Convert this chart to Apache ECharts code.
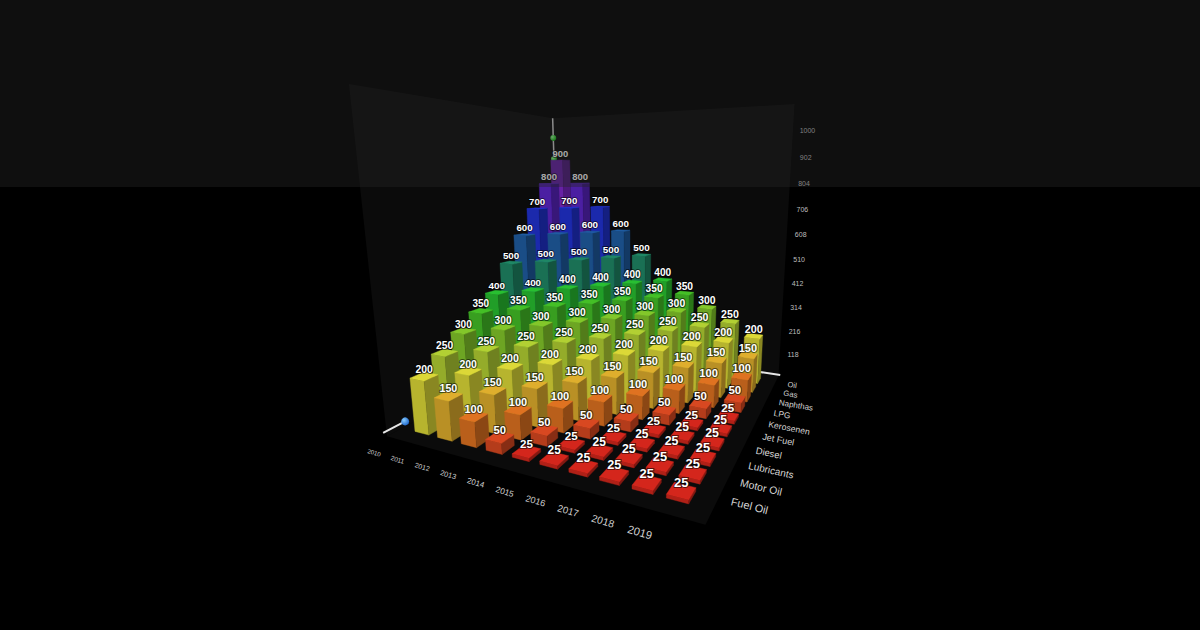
<!DOCTYPE html>
<html><head><meta charset="utf-8">
<script src="https://cdn.jsdelivr.net/npm/echarts@6/dist/echarts.min.js"></script>
<style>html,body{margin:0;padding:0;background:#000;}#c{width:1200px;height:630px;}</style>
</head><body><div id="c"></div>
<script>
// ---------------- DATA ----------------
const YEARS = ['2010','2011','2012','2013','2014','2015','2016','2017','2018','2019'];
const PRODUCTS = ['Oil','Gas','Naphthas','LPG','Kerosenen','Jet Fuel','Diesel','Lubricants','Motor Oil','Fuel Oil'];
const OIL        = [900,800,700,600,500,400,350,300,250,200];
const GAS        = [800,700,600,500,400,350,300,250,200,150];
const NAPHTHAS   = [700,600,500,400,350,300,250,200,150,100];
const LPG        = [600,500,400,350,300,250,200,150,100,50];
const KEROSENEN  = [500,400,350,300,250,200,150,100,50,25];
const JET_FUEL   = [400,350,300,250,200,150,100,50,25,25];
const DIESEL     = [350,300,250,200,150,100,50,25,25,25];
const LUBRICANTS = [300,250,200,150,100,50,25,25,25,25];
const MOTOR_OIL  = [250,200,150,100,50,25,25,25,25,25];
const FUEL_OIL   = [200,150,100,50,25,25,25,25,25,25];
const PRODUCT_VALUES = [OIL,GAS,NAPHTHAS,LPG,KEROSENEN,JET_FUEL,DIESEL,LUBRICANTS,MOTOR_OIL,FUEL_OIL];
const Z_TICK_LABELS = ['118','216','314','412','510','608','706','804','902','1000'];

// ---------------- STYLE ----------------
const LEVELS = [25,50,100,150,200,250,300,350,400,500,600,700,800,900];
const LEVEL_COLORS = ['#c8241a','#cc441f','#d26c1f','#d2a42a','#d0cc34','#a8c430','#7cbc28','#40b424','#26b42e','#1d7f5f','#1d5798','#1f2fc4','#5523b8','#7526bc'];

// camera calibration: world (yearIdx, productIdx, height) -> view plane
const CAMERA_FIT = [
 [0,9,200,425,377],[0,8,250,445,354],[0,7,300,462,332],[0,6,350,480,311],[0,5,400,497,292],[0,4,500,511,262],[0,3,600,525,234],[0,2,700,537,208],[0,1,800,549,183],[0,0,900,561,161],
 [1,0,800,580,183],[2,0,700,600,207],[3,0,600,620,231],[4,0,500,641,255],[5,0,400,663,280],[6,0,350,685,293],[7,0,300,707,308],[8,0,250,730,322],[9,0,200,753,337],
 [1,9,150,448,396],[2,9,100,474,415],[3,9,50,500,436],[4,9,25,526,451],[5,9,25,555,458],[6,9,25,583,467],[7,9,25,615,474],[8,9,25,646,482],[9,9,25,681,490],
 [9,1,150,748,353],[9,2,100,742,372],[9,3,50,735,400],[9,4,25,728,417],[9,5,25,720,429],[9,6,25,712,442],[9,7,25,703,456],[9,8,25,693,472]
];
const BASE = 14, WALL = -0.9, EDGE = 9.95, WALL_TOP = 1090, HALF = 0.31;

function solveLinear(A, b) {
  const n = b.length, M = A.map((r, i) => r.concat([b[i]]));
  for (let c = 0; c < n; c++) {
    let piv = c;
    for (let r = c + 1; r < n; r++) if (Math.abs(M[r][c]) > Math.abs(M[piv][c])) piv = r;
    [M[c], M[piv]] = [M[piv], M[c]];
    for (let r = 0; r < n; r++) {
      if (r === c) continue;
      const f = M[r][c] / M[c][c];
      for (let k = c; k <= n; k++) M[r][k] -= f * M[c][k];
    }
  }
  return M.map((r, i) => r[n] / r[i]);
}
function fitCamera(pts) {
  const N = 11, A = Array.from({length: N}, () => new Array(N).fill(0)), B = new Array(N).fill(0);
  const add = (r, b) => { for (let i = 0; i < N; i++) { for (let j = 0; j < N; j++) A[i][j] += r[i] * r[j]; B[i] += r[i] * b; } };
  pts.forEach(([X, Y, Z, u, v]) => {
    const Zs = Z / 100, un = (u - 600) / 300, vn = (v - 315) / 300;
    add([X, Y, Zs, 1, 0, 0, 0, 0, -un * X, -un * Y, -un * Zs], un);
    add([0, 0, 0, 0, X, Y, Zs, 1, -vn * X, -vn * Y, -vn * Zs], vn);
  });
  return solveLinear(A, B);
}
const P = fitCamera(CAMERA_FIT);
function project(X, Y, Z) {
  const Zs = Z / 100, w = P[8] * X + P[9] * Y + P[10] * Zs + 1;
  return [((P[0] * X + P[1] * Y + P[2] * Zs + P[3]) / w) * 300 + 600, ((P[4] * X + P[5] * Y + P[6] * Zs + P[7]) / w) * 300 + 315, w];
}
const CAM = (function () {
  const c = solveLinear([[P[0], P[1], P[2]], [P[4], P[5], P[6]], [P[8], P[9], P[10]]], [-P[3], -P[7], -1]);
  return {x: c[0], y: c[1], z: c[2] * 100};
})();

function shade(hex, f) {
  const n = parseInt(hex.slice(1), 16);
  const c = [(n >> 16) & 255, (n >> 8) & 255, n & 255].map(x => Math.max(0, Math.min(255, Math.round(x * f))));
  return 'rgb(' + c.join(',') + ')';
}

// bar items sorted far -> near
const barItems = [];
PRODUCT_VALUES.forEach((row, p) => row.forEach((val, yi) => barItems.push([yi, p, val])));
barItems.sort((a, b) => ((b[0] - CAM.x) ** 2 + (b[1] - CAM.y) ** 2) - ((a[0] - CAM.x) ** 2 + (a[1] - CAM.y) ** 2));

const axisItems = [];
YEARS.forEach((_, i) => axisItems.push([0, i]));
PRODUCTS.forEach((_, i) => axisItems.push([1, i]));
Z_TICK_LABELS.forEach((_, i) => axisItems.push([2, i]));

function makePt(api) { return (X, Y, Z) => { const q = project(X, Y, Z); return api.coord([q[0], q[1]]); }; }
function ball(c, r, c0, c1) {
  return {type: 'circle', shape: {cx: c[0], cy: c[1], r: r}, style: {fill: new echarts.graphic.RadialGradient(0.35, 0.35, 0.75, [{offset: 0, color: c0}, {offset: 1, color: c1}])}};
}

function renderScene(params, api) {
  const pt = makePt(api), W = WALL, E = EDGE, B = BASE, T = WALL_TOP;
  const fill = 'rgba(255,255,255,0.042)';
  const poly = (pts, f) => ({type: 'polygon', shape: {points: pts}, style: {fill: f}});
  const line = (a, b, col, w) => ({type: 'line', shape: {x1: a[0], y1: a[1], x2: b[0], y2: b[1]}, style: {stroke: col, lineWidth: w}});
  return {type: 'group', children: [
    poly([pt(W, W, B), pt(E, W, B), pt(E, E, B), pt(W, E, B)], fill),
    poly([pt(W, W, B), pt(W, E, B), pt(W, E, T), pt(W, W, T)], fill),
    poly([pt(W, W, B), pt(E, W, B), pt(E, W, T), pt(W, W, T)], fill),
    line(pt(W, W, B), pt(W, W, T), '#cfcfcf', 1.5),
    ball(pt(W, W, 1003), 3, '#9f9', '#0a0'),
    ball(pt(W, W, 909), 3, '#9f9', '#0a0'),
    line(pt(-1.2, 9.84, B), pt(-1.2, 8.9, B), '#e6e6e6', 2),
    ball(pt(-1.2, 8.9, B), 4, '#8cf', '#1660c8'),
    line(pt(9.15, -1.04, B), pt(10.0, -1.04, B), '#e6e6e6', 2)
  ]};
}

function renderBar(params, api) {
  const x = api.value(0), y = api.value(1), v = api.value(2);
  const col = api.visual('color');
  const pt = makePt(api), h = HALF, z0 = BASE, z1 = v;
  const face = (pts, f) => ({type: 'polygon', shape: {points: pts}, style: {fill: shade(col, f), stroke: shade(col, f), lineWidth: 0.4}});
  const ch = [];
  if (CAM.y > y + h) ch.push(face([pt(x - h, y + h, z0), pt(x + h, y + h, z0), pt(x + h, y + h, z1), pt(x - h, y + h, z1)], 0.88));
  if (CAM.y < y - h) ch.push(face([pt(x - h, y - h, z0), pt(x + h, y - h, z0), pt(x + h, y - h, z1), pt(x - h, y - h, z1)], 0.88));
  if (CAM.x > x + h) ch.push(face([pt(x + h, y - h, z0), pt(x + h, y + h, z0), pt(x + h, y + h, z1), pt(x + h, y - h, z1)], 0.66));
  if (CAM.x < x - h) ch.push(face([pt(x - h, y - h, z0), pt(x - h, y + h, z0), pt(x - h, y + h, z1), pt(x - h, y - h, z1)], 0.66));
  if (CAM.z > z1) ch.push(face([pt(x - h, y - h, z1), pt(x + h, y - h, z1), pt(x + h, y + h, z1), pt(x - h, y + h, z1)], 1.06));
  return {type: 'group', children: ch};
}

function renderBarLabel(params, api) {
  const x = api.value(0), y = api.value(1), v = api.value(2);
  const pt = makePt(api), a = pt(x, y, v), b = pt(x + 1, y, v);
  const s = Math.hypot(b[0] - a[0], b[1] - a[1]);
  const fs = Math.max(9, Math.min(13, 5 + 0.23 * s));
  return {type: 'text', x: a[0], y: a[1] - 2, style: {text: String(v), fill: '#ffffff', font: 'bold ' + fs.toFixed(1) + 'px "Liberation Sans", Arial, sans-serif', align: 'center', verticalAlign: 'bottom', stroke: 'rgba(0,0,0,0.55)', lineWidth: 2}};
}

function renderAxisLabel(params, api) {
  const kind = api.value(0), i = api.value(1), pt = makePt(api);
  let p, q, text, fs, align, col, rot = 0;
  if (kind === 0) {
    p = pt(i - 0.4, 10.88, BASE); q = pt(i + 0.6, 10.88, BASE);
    const s = Math.hypot(q[0] - p[0], q[1] - p[1]);
    fs = 0.3 * s - 1.2; text = YEARS[i]; align = 'center'; col = '#cfcfcf';
    rot = -Math.atan2(q[1] - p[1], q[0] - p[0]);
  } else if (kind === 1) {
    const X = 10.44 - 0.017 * i, Y = 0.98 * i - 0.1;
    p = pt(X, Y, BASE); q = pt(X + 1, Y, BASE);
    const s = Math.hypot(q[0] - p[0], q[1] - p[1]);
    fs = 0.25 * s + 1; text = PRODUCTS[i]; align = 'left'; col = '#d4d4d4';
    rot = -Math.atan2(q[1] - p[1], q[0] - p[0]);
  } else {
    const z = Number(Z_TICK_LABELS[i]);
    p = pt(10.47, -1, z - 5);
    fs = 7; text = Z_TICK_LABELS[i]; align = 'center'; col = '#bdbdbd';
  }
  return {type: 'text', x: p[0], y: p[1], rotation: rot, style: {text: text, fill: col, font: fs.toFixed(1) + 'px "Liberation Sans", Arial, sans-serif', align: align, verticalAlign: 'middle'}};
}

const chart = echarts.init(document.getElementById('c'), null, {renderer: 'svg', width: 1200, height: 630});
chart.setOption({
  backgroundColor: '#000000',
  animation: false,
  grid: {left: 0, right: 0, top: 0, bottom: 0},
  xAxis: {type: 'value', min: 0, max: 1200, show: false},
  yAxis: {type: 'value', min: 0, max: 630, inverse: true, show: false},
  visualMap: {type: 'piecewise', show: false, dimension: 2, seriesIndex: 1,
    pieces: LEVELS.map((lv, k) => ({value: lv, color: LEVEL_COLORS[k]}))},
  series: [
    {type: 'custom', coordinateSystem: 'cartesian2d', renderItem: renderScene, data: [[0, 0]], z: 1, silent: true},
    {type: 'custom', coordinateSystem: 'cartesian2d', renderItem: renderBar, data: barItems, encode: {x: 0, y: 1}, z: 2, silent: true},
    {type: 'custom', coordinateSystem: 'cartesian2d', renderItem: renderBarLabel, data: barItems, encode: {x: 0, y: 1}, z: 3, silent: true},
    {type: 'custom', coordinateSystem: 'cartesian2d', renderItem: renderAxisLabel, data: axisItems, encode: {x: 0, y: 1}, z: 3, silent: true}
  ],
  graphic: [
    {type: 'rect', shape: {x: 0, y: 0, width: 1200, height: 187}, style: {fill: 'rgba(37,37,37,0.4)'}, z: 100, silent: true}
  ]
});
</script></body></html>
